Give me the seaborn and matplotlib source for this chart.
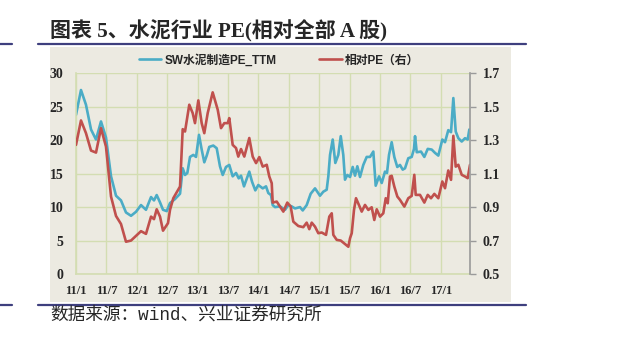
import matplotlib
matplotlib.use("Agg")
import matplotlib.pyplot as plt
from matplotlib.lines import Line2D
from matplotlib.patches import Rectangle
import seaborn as sns
import pandas as pd

# ---- data (x in decimal years) ----
pe_t = [2011.000, 2011.082, 2011.164, 2011.247, 2011.329, 2011.411, 2011.493, 2011.576,
        2011.658, 2011.740, 2011.822, 2011.905, 2011.987, 2012.069, 2012.151, 2012.234,
        2012.283, 2012.327, 2012.382, 2012.431, 2012.492, 2012.546, 2012.628, 2012.711,
        2012.755, 2012.793, 2012.831, 2012.875, 2012.929, 2012.974, 2013.023, 2013.067,
        2013.110, 2013.150, 2013.192, 2013.258, 2013.314, 2013.368, 2013.413, 2013.467,
        2013.521, 2013.577, 2013.632, 2013.676, 2013.714, 2013.763, 2013.850, 2013.895,
        2013.949, 2013.998, 2014.071, 2014.125, 2014.163, 2014.207, 2014.235, 2014.273,
        2014.355, 2014.438, 2014.492, 2014.548, 2014.602, 2014.684, 2014.729, 2014.794,
        2014.860, 2014.931, 2015.013, 2015.067, 2015.123, 2015.150, 2015.178, 2015.222,
        2015.265, 2015.314, 2015.354, 2015.396, 2015.424, 2015.462, 2015.507, 2015.551,
        2015.589, 2015.627, 2015.671, 2015.725, 2015.781, 2015.836, 2015.890, 2015.929,
        2015.984, 2016.028, 2016.082, 2016.115, 2016.148, 2016.192, 2016.235, 2016.284,
        2016.329, 2016.373, 2016.411, 2016.465, 2016.521, 2016.559, 2016.576, 2016.604,
        2016.674, 2016.729, 2016.785, 2016.850, 2016.905, 2016.959, 2017.025, 2017.069,
        2017.123, 2017.168, 2017.206, 2017.245, 2017.288, 2017.344, 2017.398, 2017.442,
        2017.469]
pe_ttm = [23.8, 27.5, 25.3, 21.6, 20.1, 22.8, 20.4, 14.6,
          11.7, 11.0, 9.2, 8.7, 9.3, 10.3, 9.6, 11.5,
          11.0, 11.8, 10.7, 9.6, 9.4, 10.6, 11.2, 12.0,
          15.8, 14.8, 15.1, 17.5, 17.8, 17.5, 20.8, 18.6,
          16.7, 17.7, 19.0, 19.2, 18.8, 16.1, 14.8, 16.0,
          16.3, 14.6, 15.1, 14.3, 14.7, 13.1, 15.3, 13.8,
          12.5, 13.3, 12.8, 13.1, 12.1, 11.8, 10.3, 10.0,
          10.1, 9.6, 10.3, 10.1, 9.8, 10.0, 9.5, 10.3,
          12.0, 12.8, 11.7, 12.3, 12.6, 14.6, 17.8, 20.1,
          16.6, 17.8, 20.6, 17.8, 14.1, 14.8, 14.5, 16.0,
          14.7, 16.1, 14.5, 16.3, 17.5, 17.5, 18.3, 13.2,
          14.6, 13.6, 15.3, 15.1, 17.8, 19.7, 17.5, 16.0,
          16.3, 15.6, 15.8, 17.3, 17.5, 18.7, 20.6, 18.2,
          18.3, 17.5, 18.7, 18.6, 18.1, 17.7, 20.1, 19.7,
          21.5, 21.2, 26.3, 21.3, 20.3, 19.8, 20.3, 20.1,
          21.6]

rel_t = [2011.000, 2011.082, 2011.164, 2011.247, 2011.329, 2011.411, 2011.493, 2011.576,
         2011.658, 2011.740, 2011.822, 2011.905, 2011.987, 2012.069, 2012.151, 2012.234,
         2012.283, 2012.327, 2012.382, 2012.431, 2012.513, 2012.546, 2012.600, 2012.711,
         2012.755, 2012.793, 2012.863, 2012.919, 2012.957, 2013.012, 2013.067, 2013.110,
         2013.166, 2013.248, 2013.331, 2013.385, 2013.439, 2013.495, 2013.521, 2013.577,
         2013.632, 2013.669, 2013.714, 2013.768, 2013.850, 2013.906, 2013.961, 2014.015,
         2014.071, 2014.137, 2014.179, 2014.219, 2014.235, 2014.301, 2014.410, 2014.475,
         2014.531, 2014.574, 2014.656, 2014.738, 2014.794, 2014.837, 2014.877, 2014.931,
         2014.985, 2015.041, 2015.112, 2015.166, 2015.206, 2015.232, 2015.288, 2015.354,
         2015.408, 2015.479, 2015.507, 2015.535, 2015.572, 2015.605, 2015.660, 2015.699,
         2015.753, 2015.808, 2015.863, 2015.906, 2015.946, 2016.000, 2016.054, 2016.094,
         2016.127, 2016.164, 2016.192, 2016.235, 2016.285, 2016.329, 2016.400, 2016.465,
         2016.521, 2016.564, 2016.587, 2016.658, 2016.729, 2016.785, 2016.839, 2016.893,
         2016.959, 2017.025, 2017.069, 2017.123, 2017.168, 2017.206, 2017.245, 2017.288,
         2017.344, 2017.398, 2017.442, 2017.480]
rel_pe = [1.272, 1.418, 1.342, 1.238, 1.226, 1.372, 1.262, 0.963,
          0.847, 0.799, 0.693, 0.700, 0.728, 0.756, 0.740, 0.843,
          0.828, 0.887, 0.843, 0.759, 0.804, 0.883, 0.953, 1.023,
          1.366, 1.352, 1.512, 1.462, 1.402, 1.538, 1.402, 1.342,
          1.462, 1.586, 1.482, 1.372, 1.402, 1.402, 1.432, 1.272,
          1.253, 1.202, 1.247, 1.202, 1.313, 1.202, 1.163, 1.199,
          1.142, 1.153, 1.083, 1.043, 0.927, 0.933, 0.873, 0.927,
          0.903, 0.813, 0.787, 0.780, 0.807, 0.768, 0.807, 0.783,
          0.744, 0.748, 0.734, 0.843, 0.863, 0.734, 0.704, 0.700,
          0.684, 0.663, 0.714, 0.744, 0.883, 0.953, 0.907, 0.873,
          0.913, 0.883, 0.899, 0.823, 0.887, 0.843, 0.863, 0.953,
          0.923, 1.083, 1.087, 1.023, 0.963, 0.943, 0.903, 0.953,
          0.967, 1.093, 0.973, 0.973, 0.927, 0.973, 0.953, 0.979,
          0.953, 1.053, 1.013, 1.119, 1.063, 1.326, 1.142, 1.153,
          1.093, 1.083, 1.073, 1.153]

x_ticks = [2011.0 + 0.5 * i for i in range(13)]
x_labels = ["11/1", "11/7", "12/1", "12/7", "13/1", "13/7", "14/1",
            "14/7", "15/1", "15/7", "16/1", "16/7", "17/1"]
left_ticks = [0, 5, 10, 15, 20, 25, 30]
right_ticks = [0.5, 0.7, 0.9, 1.1, 1.3, 1.5, 1.7]

title = "图表 5、水泥行业 PE(相对全部 A 股)"
source = "数据来源：wind、兴业证券研究所"
label_pe = "SW水泥制造PE_TTM"
label_rel = "相对PE（右）"

BLUE = "#4BACC6"
RED = "#C0504D"
PANEL = "#ECEAE1"
GRID = "#D3DDB2"
NAVY = "#3E3F7E"

sns.set_style("white")
plt.rcParams["font.family"] = ["Liberation Sans", "Noto Sans CJK SC", "DejaVu Sans"]

W, H = 618, 346
fig = plt.figure(figsize=(W / 100, H / 100), dpi=100)
fig.patch.set_facecolor("white")

def fx(px):
    return px / W

def fy(py):
    return 1 - py / H

# beige chart panel and rules
fig.add_artist(Rectangle((fx(50), fy(302)), fx(511) - fx(50), fy(47) - fy(302),
                         transform=fig.transFigure, facecolor=PANEL, edgecolor="none", zorder=0))
for y in (43.5, 305):
    fig.add_artist(Line2D([fx(38), fx(526)], [fy(y), fy(y)], color=NAVY, lw=1.6))
    fig.add_artist(Line2D([0, fx(12)], [fy(y), fy(y)], color=NAVY, lw=1.6))

fig.text(fx(50), fy(31), title, fontsize=15.1, fontweight="bold",
         family=["Liberation Serif", "Noto Sans CJK SC"], va="center", ha="left")
fig.text(fx(50), fy(315), source, fontsize=12.7,
         family=["Liberation Mono", "Noto Sans CJK SC"], va="center", ha="left")

ax = fig.add_axes([fx(76), fy(274), fx(470) - fx(76), fy(73.3) - fy(274)])
ax.set_facecolor(PANEL)

df_pe = pd.DataFrame({"t": pe_t, "v": pe_ttm})
df_rel = pd.DataFrame({"t": rel_t, "v": rel_pe})

sns.lineplot(data=df_pe, x="t", y="v", ax=ax, color=BLUE, lw=1.9, label=label_pe, legend=False)
ax2 = ax.twinx()
sns.lineplot(data=df_rel, x="t", y="v", ax=ax2, color=RED, lw=1.9, label=label_rel, legend=False)

ax.set_xlim(2011.0, 2017.48)
ax.set_ylim(0, 30)
ax2.set_ylim(0.5, 1.7)
ax.set_xticks(x_ticks)
ax.set_xticklabels(x_labels)
ax.set_yticks(left_ticks)
ax.set_yticklabels([str(v) for v in left_ticks])
ax2.set_yticks(right_ticks)
ax2.set_yticklabels([f"{v:.1f}" for v in right_ticks])
ax.set_xlabel("")
ax.set_ylabel("")
ax2.set_ylabel("")

ax.grid(True, color=GRID, lw=1.0)
ax.set_axisbelow(True)

tick_font = dict(family="Liberation Serif", weight="bold")
for lab in ax.get_xticklabels():
    lab.set_fontsize(9)
    lab.set(**tick_font)
for lab in ax.get_yticklabels() + ax2.get_yticklabels():
    lab.set_fontsize(10)
    lab.set(**tick_font)

ax.tick_params(axis="x", length=0, pad=8)
ax.tick_params(axis="y", length=0, pad=9)
ax2.tick_params(axis="y", length=4, width=1, color="#9A9A9A", direction="out", pad=5)

for a in (ax, ax2):
    for s in a.spines.values():
        s.set_visible(False)
ax.spines["left"].set_visible(True)
ax.spines["left"].set_color(GRID)
ax.spines["left"].set_linewidth(1.2)
ax.spines["bottom"].set_visible(True)
ax.spines["bottom"].set_color(GRID)
ax.spines["bottom"].set_linewidth(1.2)
ax2.spines["right"].set_visible(True)
ax2.spines["right"].set_color("#9A9A9A")
ax2.spines["right"].set_linewidth(1.2)

handles = [Line2D([], [], color=BLUE, lw=1.9), Line2D([], [], color=RED, lw=1.9)]
fig.legend(handles, [label_pe, label_rel], loc="center", bbox_to_anchor=(fx(279), fy(60)),
           ncol=2, frameon=False, handlelength=1.9, handletextpad=0.3, columnspacing=3.6,
           prop=dict(family=["Liberation Sans", "Noto Sans CJK SC"], weight="bold", size=8.5))

fig.savefig("out.png", dpi=100)
